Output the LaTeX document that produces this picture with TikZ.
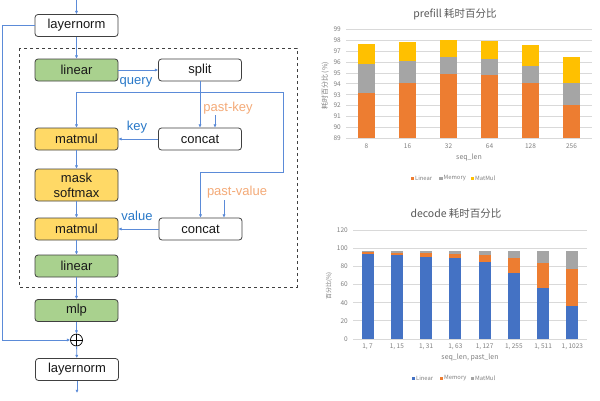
\documentclass[tikz,border=0pt]{standalone}
\usepackage{fontspec}
\setmainfont{Liberation Sans}
\newfontfamily\cjk{Noto Sans CJK SC}
\usetikzlibrary{arrows.meta}
\definecolor{lnc}{RGB}{91,139,216}
\definecolor{boxc}{RGB}{64,64,64}
\definecolor{grn}{RGB}{169,209,142}
\definecolor{ylw}{RGB}{255,217,102}
\definecolor{lblue}{RGB}{40,120,200}
\definecolor{lorange}{RGB}{244,170,120}
\definecolor{cOr}{RGB}{237,125,49}
\definecolor{cGy}{RGB}{165,165,165}
\definecolor{cYl}{RGB}{255,192,0}
\definecolor{cBl}{RGB}{68,114,196}
\definecolor{gridc}{RGB}{217,217,217}
\definecolor{txtc}{RGB}{127,127,127}
\definecolor{titc}{RGB}{89,89,89}
\begin{document}
\begin{tikzpicture}[x=1pt,y=-1pt,
  box/.style={draw=boxc, line width=0.8pt, rounded corners=3pt, minimum width=83pt, minimum height=22pt, inner sep=0pt, font=\fontsize{13}{15}\selectfont, text=black!90},
  gbox/.style={box, fill=grn},
  ybox/.style={box, fill=ylw},
  wbox/.style={box, fill=white},
  conn/.style={draw=lnc, line width=0.8pt, -{Latex[length=3.2pt,width=3.2pt]}},
  conntwo/.style={draw=lnc, line width=0.8pt, {Latex[length=3.2pt,width=3.2pt]}-{Latex[length=3.2pt,width=3.2pt]}},
  lblb/.style={text=lblue, font=\fontsize{13}{15}\selectfont, inner sep=0pt},
  lblo/.style={text=lorange, font=\fontsize{13}{15}\selectfont, inner sep=0pt},
  grid/.style={draw=gridc, line width=0.7pt},
  ytick/.style={anchor=east, text=txtc, font=\cjk\fontsize{6.5}{7}\selectfont, inner sep=0pt},
  xtick/.style={text=txtc, font=\cjk\fontsize{6.5}{7}\selectfont, inner sep=0pt},
  axtitle/.style={text=txtc, font=\cjk\fontsize{7}{8}\selectfont, inner sep=0pt},
  ctitle/.style={text=titc, font=\cjk\fontsize{10.5}{12}\selectfont, inner sep=0pt},
  legtxt/.style={anchor=west, text=txtc, font=\cjk\fontsize{5.8}{6}\selectfont, inner sep=0pt}
]
\useasboundingbox (0,0) rectangle (600,400);
\fill[white] (0,0) rectangle (600,400);

% ---------- left diagram ----------
\draw[boxc, dashed, line width=0.8pt] (19,48) rectangle (297,287);

\node[wbox] (ln1) at (76.5,25.5) {layernorm};
\node[gbox] (lin1) at (76.5,70) {linear};
\node[wbox] (split) at (200,70) {split};
\node[ybox] (mm1) at (76.5,139) {matmul};
\node[wbox] (cc1) at (200,139) {concat};
\node[ybox, minimum height=32pt, align=center, font=\fontsize{13}{15}\selectfont] (mask) at (76.5,185) {mask\\softmax};
\node[ybox] (mm2) at (76.5,229) {matmul};
\node[wbox] (cc2) at (200.5,229) {concat};
\node[gbox] (lin2) at (76.5,266) {linear};
\node[gbox] (mlp) at (76.5,310.5) {mlp};
\node[draw=black, line width=0.7pt, circle, minimum size=12pt, inner sep=0pt] (plus) at (76.5,340) {};
\draw[black, line width=0.7pt] (plus.north) -- (plus.south) (plus.west) -- (plus.east);
\node[wbox] (ln2) at (77,369.5) {layernorm};

\coordinate (top) at (76.5,0);
\coordinate (bot) at (77,393);
\coordinate (skipa) at (2,25.5);
\coordinate (skipb) at (2,340);
\coordinate (r1) at (283,92);
\coordinate (r2) at (283,172);
\coordinate (pk) at (215,115);
\coordinate (pv) at (224,200);

\node[lblb] (query) at (136,82) {query};
\node[lblb] (key) at (137,127) {key};
\node[lblb] (value) at (137,216) {value};
\node[lblo] (pastkey) at (228,108) {past-key};
\node[lblo] (pastvalue) at (237,192) {past-value};

\draw[conn] (top) -- (ln1);
\draw[conn] (ln1) -- (lin1);
\draw[conn] (lin1) -- (split);
\draw[conn] (split) -- (cc1);
\draw[conn] (pk) -- (pk |- cc1.north);
\draw[conntwo] (mm1.north) |- (r1) -- (r2) -- (cc2.north |- r2) -- (cc2.north);
\draw[conn] (cc1) -- (mm1);
\draw[conn] (mm1) -- (mask);
\draw[conn] (mask) -- (mm2);
\draw[conn] (pv) -- (pv |- cc2.north);
\draw[conn] (cc2) -- (mm2);
\draw[conn] (mm2) -- (lin2);
\draw[conn] (lin2) -- (mlp);
\draw[conn] (mlp) -- (plus);
\draw[conn] (plus) -- (ln2);
\draw[conn] (ln2) -- (bot);
\draw[conn] (ln1.west) -- (skipa) -- (skipb) -- (plus.west);

% ---------- prefill chart ----------
\node[ctitle] (ptitle) at (455,14) {prefill 耗时百分比};
\foreach \v in {89,...,99} {
  \draw[grid] (346,{138.3-(\v-89)*10.9}) -- (592,{138.3-(\v-89)*10.9});
  \node[ytick] (py\v) at (341,{138.3-(\v-89)*10.9}) {\v};
}
\foreach \i/\lab/\a/\b/\c in {1/8/93.13/95.82/97.68, 2/16/94.05/96.09/97.80, 3/32/94.87/96.49/98.02, 4/64/94.80/96.30/97.96, 5/128/94.05/95.63/97.56, 6/256/92.05/94.10/96.49} {
  \pgfmathsetmacro\cx{366.5+41*(\i-1)}
  \fill[cOr] ({\cx-8.5},138.3) rectangle ({\cx+8.5},{138.3-(\a-89)*10.9});
  \fill[cGy] ({\cx-8.5},{138.3-(\a-89)*10.9}) rectangle ({\cx+8.5},{138.3-(\b-89)*10.9});
  \fill[cYl] ({\cx-8.5},{138.3-(\b-89)*10.9}) rectangle ({\cx+8.5},{138.3-(\c-89)*10.9});
  \node[xtick] (px\i) at (\cx,146.5) {\lab};
}
\node[axtitle] (pxt) at (469,157.5) {seq\_len};
\node[axtitle, rotate=90] (pyt) at (325,86) {耗时百分比 (\%)};
\fill[cOr] (410.5,176.5) rectangle (414,180);
\node[legtxt] (pl1) at (415,178.3) {Linear};
\fill[cGy] (439,176.5) rectangle (442.5,180);
\node[legtxt] (pl2) at (443.5,178.3) {Memory};
\fill[cYl] (470.5,176.5) rectangle (474,180);
\node[legtxt] (pl3) at (475,178.3) {MatMul};

% ---------- decode chart ----------
\node[ctitle] (dtitle) at (456,214) {decode 耗时百分比};
\foreach \v in {0,20,...,120} {
  \draw[grid] (353,{339-\v*0.908}) -- (587,{339-\v*0.908});
  \node[ytick] (dy\v) at (348,{339-\v*0.908}) {\v};
}
\foreach \i/\lab/\a/\b/\c in {1/{1, 7}/93.3/96.1/97, 2/{1, 15}/92.5/95.2/97, 3/{1, 31}/90.6/95/97, 4/{1, 63}/88.9/93.6/97, 5/{1, 127}/85.2/92.2/97, 6/{1, 255}/73/88.9/97, 7/{1, 511}/55.8/83.3/97, 8/{1, 1023}/36.3/76.7/97} {
  \pgfmathsetmacro\cx{367.6+29.25*(\i-1)}
  \fill[cBl] ({\cx-6},339) rectangle ({\cx+6},{339-\a*0.908});
  \fill[cOr] ({\cx-6},{339-\a*0.908}) rectangle ({\cx+6},{339-\b*0.908});
  \fill[cGy] ({\cx-6},{339-\b*0.908}) rectangle ({\cx+6},{339-\c*0.908});
  \node[xtick] (dx\i) at (\cx,346.7) {\lab};
}
\node[axtitle] (dxt) at (470,357.7) {seq\_len, past\_len};
\node[axtitle, rotate=90, font=\cjk\fontsize{6}{7}\selectfont] (dyt) at (329,286) {百分比(\%)};
\fill[cBl] (411.5,376.5) rectangle (415,380);
\node[legtxt] (dl1) at (416,378.3) {Linear};
\fill[cOr] (439.5,376.5) rectangle (443,380);
\node[legtxt] (dl2) at (444,378.3) {Memory};
\fill[cGy] (470.5,376.5) rectangle (474,380);
\node[legtxt] (dl3) at (475,378.3) {MatMul};
\end{tikzpicture}
\end{document}
